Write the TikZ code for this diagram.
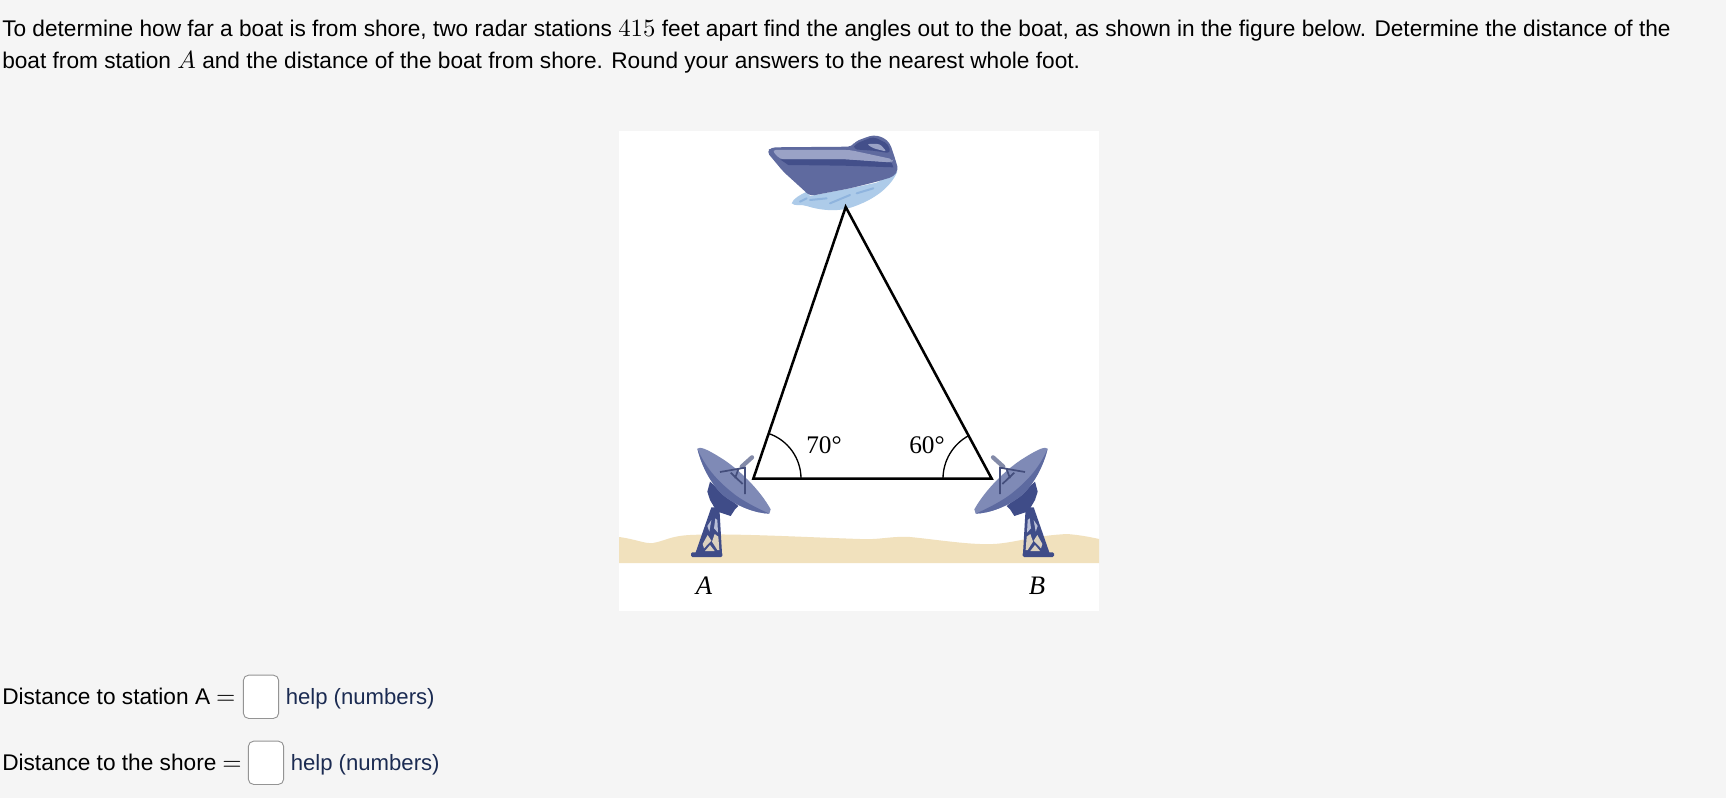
\documentclass[tikz,border=0pt]{standalone}
\usepackage[no-math]{fontspec}
\setmainfont{Liberation Sans}
\newfontfamily\figfont{Liberation Serif}
\font\mathup=cmr10 at 18.6pt
\font\mathit=cmmi10 at 18.6pt
\definecolor{pagebg}{HTML}{F5F5F5}
\definecolor{sand}{HTML}{F1E1BD}
\definecolor{hull}{HTML}{5F6A9F}
\definecolor{hulldark}{HTML}{434F8A}
\definecolor{hulllight}{HTML}{9AA2C6}
\definecolor{wave}{HTML}{ADCBE9}
\definecolor{wavedark}{HTML}{8FB4DE}
\definecolor{dish}{HTML}{7F8AB6}
\definecolor{dishdark}{HTML}{55629B}
\definecolor{tower}{HTML}{3F4C88}
\definecolor{helpcol}{HTML}{1B2B52}
\tikzset{
  x=0.75pt,y=-0.75pt,
  bodytext/.style={anchor=base west,inner sep=0pt,font=\fontsize{17}{22}\selectfont,text=black},
  helptext/.style={anchor=base west,inner sep=0pt,font=\fontsize{16.6}{22}\selectfont,text=helpcol},
  figlabel/.style={inner sep=0pt,font=\figfont\fontsize{19}{22}\selectfont,text=black},
  figletter/.style={inner sep=0pt,font=\figfont\itshape\fontsize{20}{22}\selectfont,text=black},
  inputbox/.style={draw=black!42,fill=white,line width=0.7pt,rounded corners=4pt,minimum width=26.5pt,minimum height=32.5pt,inner sep=0pt},
  sightline/.style={line width=1.9pt,line join=miter},
  anglearc/.style={line width=1pt},
}
\newcommand{\radarshape}{%
  % tower body with windows
  \fill[tower] (304,262)--(328,262)--(336,400)--(256,400)--cycle;
  \fill[hulllight!70!white] (304,300)--(298,335)--(292,318)--cycle;
  \fill[hulllight!70!white] (316,295)--(322,300)--(324,338)--(312,325)--cycle;
  \fill[sand!75!hulllight] (293,345)--(304,362)--(282,385)--(278,372)--cycle;
  \fill[sand!75!hulllight] (314,342)--(325,350)--(328,390)--(322,390)--(306,365)--cycle;
  \fill[sand!75!hulllight] (285,393)--(300,375)--(314,393)--cycle;
  \fill[tower,rounded corners=1pt] (243,397) rectangle (337,411);
  % mount
  \fill[tower] (292,215)--(300,185)--(385,258)--(375,268)--(362,288)--(320,274)--(300,240)--cycle;
  % dish
  \fill[dish] (262,86)..controls (270,80) and (285,84) ..(330,112)..controls (385,145) and (450,210)..(482,268)--(478,281)..controls (440,280) and (385,262)..(340,226)..controls (305,195) and (275,140)..(262,86)--cycle;
  \fill[dishdark,opacity=.8] (340,226)..controls (305,195) and (275,140)..(262,86)..controls (290,150) and (330,190)..(380,228)..controls (420,255) and (450,268)..(478,281)..controls (440,280) and (385,262)..(340,226)--cycle;
  % feed
  \draw[hulllight!85!black,line width=3.2pt,line cap=round] (395,140)--(426,112);
  \draw[dishdark!80!black,line width=1.3pt] (330,156)--(405,143)--(405,222) (362,158)--(398,192) (385,148)--(375,175);
}
\begin{document}
\begin{tikzpicture}
\useasboundingbox (0,0) rectangle (1726,798);
\fill[pagebg] (0,0) rectangle (1726,798);
% problem text
\node[bodytext] (line1) at (2,37) {To determine how far a boat is from shore, two radar stations {\mathup 415} feet apart find the angles out to the boat, as shown in the figure below. Determine the distance of the};
\node[bodytext] (line2) at (2,69) {boat from station {\mathit A} and the distance of the boat from shore. Round your answers to the nearest whole foot.};
% figure panel
\fill[white] (619,131) rectangle (1099,611);
\fill[sand] (619,537) .. controls (635,539) and (645,544) .. (653,543) .. controls (665,541) and (670,536) .. (690,535) .. controls (730,533) and (800,537) .. (860,539) .. controls (880,540) and (890,536) .. (910,537) .. controls (940,540) and (970,545) .. (993,544) .. controls (1015,543) and (1030,536) .. (1067,534) .. controls (1080,535) and (1090,537) .. (1099,539) -- (1099,563) -- (619,563) -- cycle;
% boat
\begin{scope}[shift={(610,120)},scale=1/3]
  \fill[wave] (545,250) .. controls (550,235) and (570,225) .. (590,215) -- (600,228) -- (720,205) -- (800,188) -- (862,155) .. controls (840,205) and (790,240) .. (725,262) .. controls (690,274) and (640,274) .. (590,258) .. controls (575,252) and (555,260) .. (545,250) -- cycle;
  \draw[wavedark,line width=1.5pt,line cap=round] (600,240)--(650,235) (660,250)--(720,225) (740,220)--(790,205) (570,245)--(590,235);
  \fill[hull,rounded corners=3pt] (470,95) -- (485,82) -- (725,80) -- (735,65) -- (760,55) -- (790,45) -- (820,52) -- (840,70) -- (850,100) -- (858,125) -- (865,150) -- (850,170) -- (800,185) -- (720,205) -- (600,228) -- (575,205) -- (520,155) -- cycle;
  \fill[hulllight,rounded corners=3pt] (485,90) -- (720,90) -- (850,118) -- (845,128) -- (700,118) -- (510,118) -- cycle;
  \fill[hulldark] (510,118) -- (700,118) -- (845,128) -- (850,142) -- (700,137) -- (535,135) -- cycle;
  \fill[hulldark,rounded corners=3pt] (735,72) -- (790,50) -- (835,72) -- (842,100) -- (790,92) -- (730,88) -- cycle;
  \fill[hulllight,rounded corners=2pt] (770,72) -- (810,72) -- (830,95) -- (790,85) -- cycle;
\end{scope}
% radars
\begin{scope}[shift={(610,420)},scale=1/3]
  \radarshape
\end{scope}
\begin{scope}[shift={(1135,420)},xscale=-1/3,yscale=1/3]
  \radarshape
\end{scope}
% triangle
\coordinate (stationA) at (753.3,478.7);
\coordinate (stationB) at (991.7,478.7);
\coordinate (boat) at (845.7,207);
\coordinate (arcA) at (801,478.7);
\coordinate (arcB) at (943,478.7);
\draw[anglearc] (arcA) arc[start angle=0,end angle=71,radius=35.8pt];
\draw[anglearc] (arcB) arc[start angle=180,end angle=118,radius=36.7pt];
\draw[sightline] (stationA) -- (boat) -- (stationB) -- cycle;
% figure labels
\node[figlabel] (angA) at (824,445) {70°};
\node[figlabel] (angB) at (927,445) {60°};
\node[figletter] (labA) at (704,586) {A};
\node[figletter] (labB) at (1037,586) {B};
% answers
\node[bodytext] (dist1) at (2,704) {Distance to station A\kern4.5pt{\mathup =}};
\node[inputbox] (box1) at (261,696.8) {};
\node[helptext] (help1) at (285.5,704) {help (numbers)};
\node[bodytext] (dist2) at (2,770) {Distance to the shore\kern4.5pt{\mathup =}};
\node[inputbox] (box2) at (266,762.8) {};
\node[helptext] (help2) at (290.5,770) {help (numbers)};
\end{tikzpicture}
\end{document}
